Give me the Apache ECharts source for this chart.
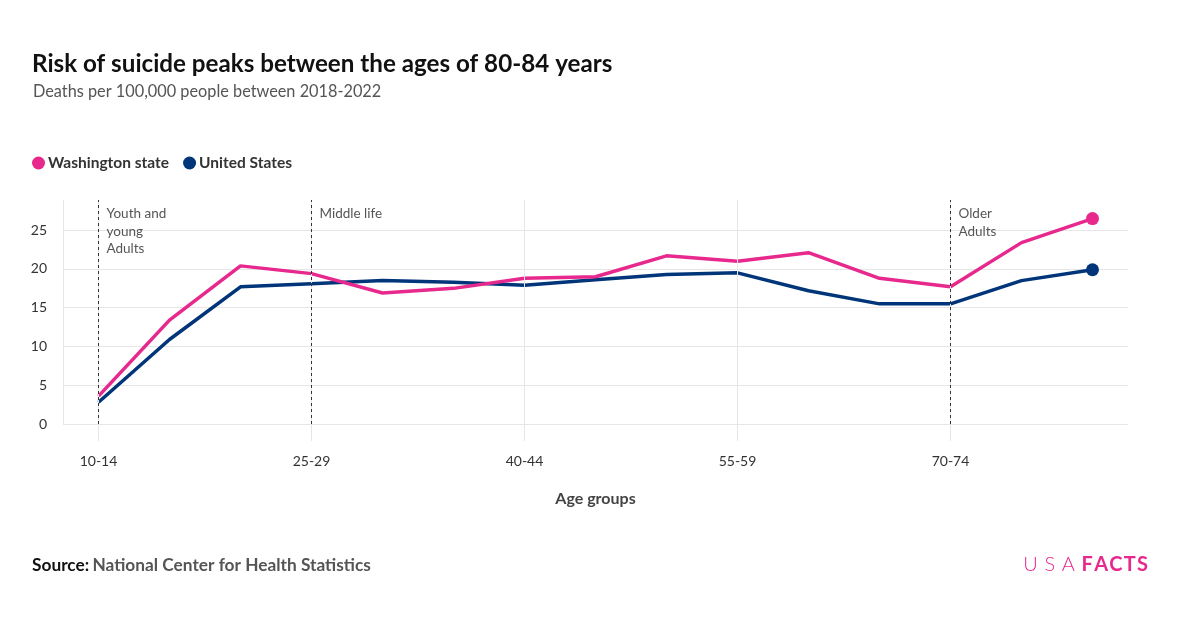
<!DOCTYPE html>
<html>
<head>
<meta charset="utf-8">
<script src="https://cdn.jsdelivr.net/npm/echarts@6/dist/echarts.min.js"></script>
<style>
html,body{margin:0;padding:0;background:#fff;}
#chart{width:1200px;height:628px;}
</style>
</head>
<body>
<div id="chart"></div>
<script>
const ageGroups = ['10-14','15-19','20-24','25-29','30-34','35-39','40-44','45-49','50-54','55-59','60-64','65-69','70-74','75-79','80-84'];
const washington = [3.6, 13.4, 20.4, 19.4, 16.9, 17.5, 18.8, 19.0, 21.7, 21.0, 22.1, 18.8, 17.7, 23.4, 26.5];
const unitedStates = [2.8, 10.9, 17.7, 18.1, 18.5, 18.3, 17.9, 18.6, 19.3, 19.5, 17.2, 15.5, 15.5, 18.5, 19.9];
const gridCategories = ['10-14','25-29','40-44','55-59','70-74'];
const sections = [
  {cat: '10-14', text: 'Youth and\nyoung\nAdults'},
  {cat: '25-29', text: 'Middle life'},
  {cat: '70-74', text: 'Older\nAdults'}
];
const yMax = 28.9;
const yTicks = [0, 5, 10, 15, 20, 25];

const FONT = 'Lato, "Source Sans Pro", "Noto Sans", sans-serif';
const PINK = '#E7298E';
const NAVY = '#00357A';
const lastIdx = ageGroups.length - 1;

const chart = echarts.init(document.getElementById('chart'), null, {renderer: 'canvas'});

const option = {
  backgroundColor: '#fff',
  animation: false,
  textStyle: {fontFamily: FONT},
  title: [
    {text: 'Risk of suicide peaks between the ages of 80-84 years', left: 32, top: 52, padding: 0,
     textStyle: {fontFamily: FONT, fontSize: 24.2, fontWeight: 'bold', color: '#111'}},
    {text: 'Deaths per 100,000 people between 2018-2022', left: 33, top: 84, padding: 0,
     textStyle: {fontFamily: FONT, fontSize: 16.3, fontWeight: 'normal', color: '#555'}}
  ],
  legend: {
    left: 32, top: 155, padding: 0, icon: 'circle', itemWidth: 13, itemHeight: 13, itemGap: 14,
    data: ['Washington state', 'United States'],
    textStyle: {fontFamily: FONT, fontSize: 15.5, fontWeight: 'bold', color: '#333', padding: [0,0,0,-2]}
  },
  grid: {left: 63, right: 72, top: 200, bottom: 204, containLabel: false},
  xAxis: {
    type: 'category', data: ageGroups, boundaryGap: true,
    axisLine: {show: false},
    axisTick: {show: true, interval: 2, alignWithLabel: true, length: 17, lineStyle: {color: '#e6e6e6'}},
    axisLabel: {interval: 2, margin: 30, fontSize: 14, color: '#333', fontFamily: FONT},
    splitLine: {show: false},
    name: 'Age groups', nameLocation: 'middle', nameGap: 67,
    nameTextStyle: {fontFamily: FONT, fontSize: 16, fontWeight: 'bold', color: '#444'}
  },
  yAxis: {
    type: 'value', min: 0, max: yMax, interval: 5,
    axisLine: {show: true, lineStyle: {color: '#e6e6e6'}},
    axisTick: {show: false},
    axisLabel: {margin: 16, fontSize: 14, color: '#333', fontFamily: FONT, showMaxLabel: false,
      formatter: v => (yTicks.indexOf(v) >= 0 ? String(v) : '')},
    splitLine: {show: true, lineStyle: {color: ['#e6e6e6','#e6e6e6','#e6e6e6','#e6e6e6','#e6e6e6','#e6e6e6','rgba(0,0,0,0)'], width: 1}}
  },
  series: [
    {
      name: 'grid-lines', type: 'line', data: [], z: 1, silent: true,
      markLine: {
        silent: true, symbol: 'none', animation: false,
        label: {show: false},
        lineStyle: {color: '#e6e6e6', type: 'solid', width: 1},
        data: gridCategories.map(c => ({xAxis: c}))
      }
    },
    {
      name: 'sections', type: 'line', data: [], z: 2, silent: true,
      markLine: {
        silent: true, symbol: 'none', animation: false,
        label: {show: false},
        lineStyle: {color: '#333', type: [3, 3], width: 1},
        data: sections.map(s => ({xAxis: s.cat}))
      },
      markPoint: {
        silent: true, symbol: 'circle', symbolSize: 0, animation: false,
        label: {show: true, position: [8, 5], align: 'left', verticalAlign: 'top',
          fontFamily: FONT, fontSize: 13.5, lineHeight: 17.5, color: '#555',
          formatter: p => p.name},
        data: sections.map(s => ({name: s.text, coord: [s.cat, yMax]}))
      }
    },
    {
      name: 'Washington state', type: 'line', data: washington, z: 4,
      color: PINK, lineStyle: {width: 3.5, color: PINK},
      symbol: 'circle', showAllSymbol: true,
      symbolSize: (v, p) => (p.dataIndex === lastIdx ? 13 : 0),
      itemStyle: {color: PINK}, emphasis: {disabled: true}
    },
    {
      name: 'United States', type: 'line', data: unitedStates, z: 3,
      color: NAVY, lineStyle: {width: 3.5, color: NAVY},
      symbol: 'circle', showAllSymbol: true,
      symbolSize: (v, p) => (p.dataIndex === lastIdx ? 13 : 0),
      itemStyle: {color: NAVY}, emphasis: {disabled: true}
    }
  ],
  graphic: [
    {type: 'text', left: 32, top: 557, style: {
      text: '{a|Source:} {b|National Center for Health Statistics}',
      rich: {
        a: {fontFamily: FONT, fontSize: 17.3, fontWeight: 'bold', fill: '#111'},
        b: {fontFamily: FONT, fontSize: 17.3, fontWeight: 'bold', fill: '#555'}
      }
    }},
    {type: 'text', right: 52, top: 555, style: {
      text: '{a|U\u2004S\u2004A\u2004}{b|F\u200aA\u200aC\u200aT\u200aS}',
      rich: {
        a: {fontFamily: FONT, fontSize: 20, fontWeight: 300, fill: PINK},
        b: {fontFamily: FONT, fontSize: 20, fontWeight: 'bold', fill: PINK}
      }
    }}
  ]
};
chart.setOption(option);
</script>
</body>
</html>
